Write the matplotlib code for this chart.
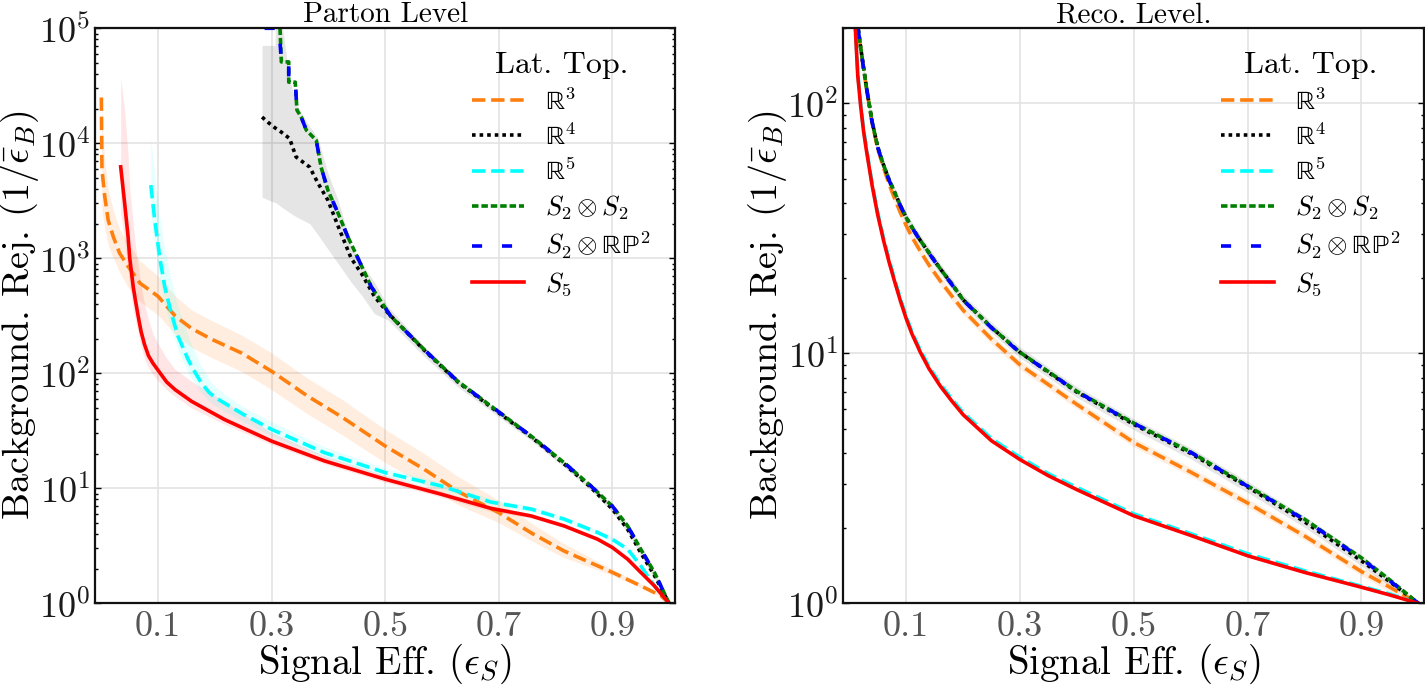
import numpy as np
import matplotlib
matplotlib.use('Agg')
import matplotlib.pyplot as plt
from matplotlib.ticker import NullFormatter, LogLocator

plt.rcParams['font.family'] = 'cmr10'
plt.rcParams['mathtext.fontset'] = 'cm'
plt.rcParams['axes.unicode_minus'] = False
plt.rcParams['axes.formatter.use_mathtext'] = True

# ---------------- Parton level ----------------
# R^3
r3_x = [0.0, 0.0005, 0.001, 0.006, 0.012, 0.021, 0.032, 0.047, 0.068, 0.10, 0.13, 0.159, 0.194, 0.247,
        0.30, 0.364, 0.4225, 0.50, 0.569, 0.628, 0.675, 0.701, 0.757, 0.815, 0.90, 0.95, 0.986, 1.0]
r3_y = [2.5e4, 1.07e4, 5.9e3, 3.43e3, 2.14e3, 1.54e3, 1.11e3, 850, 608, 466, 315, 245, 198, 150,
        104, 63, 42, 23.3, 14.6, 9.4, 7.1, 6.1, 4.1, 2.85, 1.86, 1.42, 1.16, 1.0]
r3_lo = [1.2e4, 5e3, 2.6e3, 1.8e3, 1.3e3, 1.0e3, 760, 560, 420, 320, 218, 168, 137, 104,
         72, 44, 29.5, 16.7, 10.8, 7.2, 5.7, 5.0, 3.5, 2.5, 1.75, 1.37, 1.14, 1.0]
r3_hi = [5.1e4, 2.5e4, 1.5e4, 7e3, 4e3, 2.6e3, 1.8e3, 1.35e3, 950, 700, 470, 355, 288, 215,
         150, 90, 60, 32.5, 20, 12.7, 9.3, 7.8, 5.0, 3.3, 1.98, 1.48, 1.18, 1.0]

# R^4
r4_x = [0.283, 0.295, 0.306, 0.307, 0.317, 0.3315, 0.343, 0.367, 0.3815, 0.399, 0.417, 0.44, 0.458,
        0.481, 0.505, 0.569, 0.628, 0.686, 0.757, 0.815, 0.862, 0.90, 0.927, 0.95, 0.974, 1.0]
r4_y = [1.69e4, 1.5e4, 1.36e4, 1.35e4, 1.25e4, 1.1e4, 7.6e3, 6.2e3, 4.5e3, 3.2e3, 1.9e3, 1.0e3, 740,
        466, 334, 158, 84, 51, 28, 16.3, 10.2, 6.6, 4.4, 2.75, 1.75, 1.0]
r4_lo = [3.4e3, 3.2e3, 3.05e3, 3.05e3, 2.8e3, 2.5e3, 2.3e3, 2.0e3, 1.6e3, 1.2e3, 900, 620, 480,
         330, 290, 140, 76, 47, 26, 15.3, 9.6, 6.2, 4.1, 2.6, 1.65, 1.0]
r4_hi = [7.1e4, 7.1e4, 7.1e4, 2e5, 1.2e5, 3.6e4, 2.2e4, 1.4e4, 1.1e4, 5.5e3, 3.2e3, 1.3e3, 900,
         620, 380, 170, 90, 54, 30, 17.3, 10.8, 7.2, 4.9, 3.1, 1.95, 1.0]

# R^5
r5_x = [0.087, 0.094, 0.103, 0.1115, 0.123, 0.135, 0.153, 0.165, 0.176, 0.19, 0.20, 0.217, 0.25,
        0.30, 0.393, 0.50, 0.598, 0.686, 0.757, 0.815, 0.874, 0.90, 0.927, 0.95, 0.974, 1.0]
r5_y = [4330, 2150, 1000, 569, 334, 210, 131, 102, 82.6, 68, 62, 55, 44,
        32.5, 20.4, 13.7, 10.5, 7.6, 6.6, 5.4, 4.13, 3.6, 2.96, 2.12, 1.42, 1.0]
r5_lo = [2500, 1300, 650, 380, 240, 160, 100, 82, 68, 57, 52.5, 47, 38,
         28.5, 18.5, 12.6, 9.8, 7.2, 6.3, 5.15, 3.95, 3.45, 2.85, 2.05, 1.39, 1.0]
r5_hi = [1.14e4, 5e3, 2.3e3, 1.2e3, 650, 380, 210, 150, 115, 88, 77, 66, 51,
         38, 23, 15, 11.3, 8.1, 7.0, 5.7, 4.35, 3.8, 3.1, 2.2, 1.46, 1.0]

# S2 x S2
s22_x = [0.314, 0.317, 0.330, 0.330, 0.3415, 0.3445, 0.352, 0.361, 0.3785, 0.387, 0.399, 0.417, 0.434,
         0.452, 0.475, 0.510, 0.569, 0.628, 0.686, 0.757, 0.815, 0.862, 0.90, 0.927, 0.95, 0.974, 1.0]
s22_y = [1.2e5, 5.1e4, 5.1e4, 3.4e4, 3.4e4, 1.94e4, 1.69e4, 1.3e4, 1.06e4, 6.2e3, 3.9e3, 2.46e3, 1.54e3,
         1.0e3, 570, 312, 160, 85, 52, 28.4, 16.7, 10.5, 7.0, 4.7, 2.96, 1.86, 1.0]

# S2 x RP2
s2rp_x = [0.2875, 0.313, 0.317, 0.330, 0.330, 0.3415, 0.3445, 0.352, 0.361, 0.3785, 0.387, 0.399, 0.417,
          0.434, 0.452, 0.475, 0.510, 0.569, 0.628, 0.686, 0.757, 0.815, 0.862, 0.90, 0.927, 0.95, 0.974, 1.0]
s2rp_y = [1.0e5, 1.0e5, 5.1e4, 5.1e4, 3.4e4, 3.4e4, 1.94e4, 1.69e4, 1.3e4, 1.06e4, 6.2e3, 3.9e3, 2.46e3,
          1.54e3, 1.0e3, 570, 312, 160, 85, 52, 28.4, 16.7, 10.5, 7.0, 4.7, 2.96, 1.86, 1.0]

# S5
s5_x = [0.034, 0.041, 0.047, 0.050, 0.056, 0.060, 0.065, 0.070, 0.076, 0.083, 0.091, 0.10, 0.115, 0.130,
        0.159, 0.217, 0.30, 0.393, 0.50, 0.598, 0.686, 0.757, 0.815, 0.874, 0.90, 0.927, 0.95, 0.974, 1.0]
s5_y = [6240, 3000, 1550, 1000, 569, 430, 310, 230, 178, 142, 122, 106, 84, 72,
        57, 39.6, 25.7, 17.3, 12.0, 8.9, 6.7, 5.75, 4.71, 3.61, 3.06, 2.42, 1.86, 1.42, 1.0]
s5_lo = [2.5e3, 1.4e3, 800, 560, 360, 290, 220, 170, 135, 112, 97, 86, 72, 63,
         50, 36, 24, 16.3, 11.3, 8.4, 6.3, 5.5, 4.55, 3.5, 2.97, 2.35, 1.8, 1.4, 1.0]
s5_hi = [3.7e4, 1.9e4, 8e3, 4e3, 2e3, 1.3e3, 850, 580, 400, 290, 220, 180, 135, 108,
         85, 57, 30.5, 19.2, 13.0, 9.5, 7.0, 6.0, 4.9, 3.7, 3.15, 2.5, 1.9, 1.44, 1.0]

# ---------------- Reco level ----------------
reco_x = [0.006, 0.010, 0.015, 0.020, 0.025, 0.030, 0.040, 0.050, 0.060, 0.070, 0.080, 0.090, 0.10, 0.11,
          0.125, 0.14, 0.16, 0.18, 0.20, 0.25, 0.30, 0.35, 0.40, 0.50, 0.60, 0.70, 0.80, 0.90, 0.95, 1.0]
reco_r3 = [600, 320, 205, 167, 139, 116, 84, 66, 55.5, 47.5, 41.5, 36.5, 32.5, 29.3,
           25.6, 22.6, 19.5, 17.0, 14.9, 11.4, 9.0, 7.5, 6.25, 4.4, 3.35, 2.52, 1.86, 1.34, 1.16, 1.0]
reco_r3_lo = [576, 307, 197, 160, 133, 111, 80.6, 63.4, 53.3, 45.6, 39.8, 35, 31.2, 28.1,
              24.6, 21.7, 18.7, 16.3, 14.3, 10.9, 8.64, 7.2, 6.0, 4.22, 3.22, 2.42, 1.79, 1.29, 1.11, 1.0]
reco_r3_hi = [624, 333, 213, 174, 145, 121, 87.4, 68.6, 57.7, 49.4, 43.2, 38, 33.8, 30.5,
              26.6, 23.5, 20.3, 17.7, 15.5, 11.9, 9.36, 7.8, 6.5, 4.58, 3.48, 2.62, 1.93, 1.39, 1.21, 1.0]
reco_r4 = [600, 320, 205, 168, 140, 117, 85, 67, 57, 49.5, 44, 39, 35, 32,
           28.3, 25.3, 21.8, 19.0, 16.4, 12.7, 10.1, 8.4, 7.0, 5.2, 3.98, 2.92, 2.12, 1.48, 1.22, 1.0]
reco_r4_lo = [570, 304, 195, 160, 133, 111, 81, 63.7, 54.2, 47, 41.8, 37, 33.3, 30.4,
              26.9, 24, 20.7, 18.1, 15.6, 12.1, 9.6, 8.0, 6.65, 4.94, 3.78, 2.77, 2.01, 1.41, 1.17, 1.0]
reco_r4_hi = [630, 336, 215, 176, 147, 123, 89, 70.4, 59.9, 52, 46.2, 41, 36.8, 33.6,
              29.7, 26.6, 22.9, 20, 17.2, 13.3, 10.6, 8.8, 7.35, 5.46, 4.18, 3.07, 2.23, 1.56, 1.27, 1.0]
reco_r5 = [425, 218, 132, 100, 79.5, 66.6, 48.2, 36.6, 29.1, 23.7, 19.7, 16.5, 14.1, 12.2,
           10.3, 8.87, 7.55, 6.59, 5.8, 4.56, 3.84, 3.3, 2.91, 2.28, 1.9, 1.58, 1.35, 1.17, 1.09, 1.0]
reco_s22 = [600, 320, 205, 168, 140, 117, 85, 67, 57, 49.5, 44, 39, 35, 32,
            28.3, 25.3, 21.8, 19.0, 16.4, 12.7, 10.1, 8.45, 7.05, 5.26, 4.03, 2.95, 2.17, 1.52, 1.24, 1.0]
reco_s2rp = [600, 320, 203, 167, 139, 116.5, 84.7, 66.8, 56.8, 49.3, 43.8, 38.9, 34.9, 31.9,
             28.2, 25.2, 21.7, 18.9, 16.35, 12.65, 10.07, 8.43, 7.03, 5.25, 4.02, 2.94, 2.16, 1.51, 1.23, 1.0]
reco_s5 = [417, 214, 129, 98, 78, 65.3, 47.3, 35.9, 28.5, 23.2, 19.3, 16.2, 13.8, 12.0,
           10.1, 8.7, 7.4, 6.46, 5.69, 4.47, 3.76, 3.24, 2.85, 2.24, 1.87, 1.55, 1.33, 1.16, 1.08, 1.0]

labels = [r'$\mathrm{ℝ}^3$', r'$\mathrm{ℝ}^4$', r'$\mathrm{ℝ}^5$',
          r'$S_2\otimes S_2$', r'$S_2\otimes\mathrm{ℝℙ}^2$', r'$S_5$']
xtick_vals = [0.1, 0.3, 0.5, 0.7, 0.9]

lw = 2.6
styles = [
    dict(color='#ff7f0e', ls='--', lw=lw),
    dict(color='black', ls=(0, (1, 1.1)), lw=lw),
    dict(color='cyan', ls='--', lw=lw),
    dict(color='green', ls=(0, (1.8, 0.8)), lw=lw),
    dict(color='blue', ls=(0, (2.8, 5.5)), lw=lw),
    dict(color='red', ls='-', lw=lw),
]

fig = plt.figure(figsize=(14.25, 6.86), dpi=100)
ax1 = fig.add_axes([0.0670, 0.1205, 0.4067, 0.8383])
ax2 = fig.add_axes([0.5918, 0.1205, 0.4077, 0.8383])

# parton panel
ax1.fill_between(r3_x, r3_lo, r3_hi, color='#ff7f0e', alpha=0.13, lw=0)
ax1.fill_between(r4_x, r4_lo, r4_hi, color='black', alpha=0.1, lw=0)
ax1.fill_between(r5_x, r5_lo, r5_hi, color='cyan', alpha=0.1, lw=0)
ax1.fill_between(s5_x, s5_lo, s5_hi, color='red', alpha=0.1, lw=0)
series1 = [(r3_x, r3_y), (r4_x, r4_y), (r5_x, r5_y), (s22_x, s22_y), (s2rp_x, s2rp_y), (s5_x, s5_y)]
for (x, y), st, lab in zip(series1, styles, labels):
    ax1.plot(x, y, label=lab, **st)

# reco panel
ax2.fill_between(reco_x, reco_r3_lo, reco_r3_hi, color='#ff7f0e', alpha=0.13, lw=0)
ax2.fill_between(reco_x, reco_r4_lo, reco_r4_hi, color='black', alpha=0.1, lw=0)
for y, st, lab in zip([reco_r3, reco_r4, reco_r5, reco_s22, reco_s2rp, reco_s5], styles, labels):
    ax2.plot(reco_x, y, label=lab, **st)

for ax, title, ytop in [(ax1, 'Parton Level', 1e5), (ax2, 'Reco. Level.', 200)]:
    ax.set_yscale('log')
    ax.set_xlim(-0.0104, 1.0104)
    ax.set_ylim(1, ytop)
    ax.set_xticks(xtick_vals)
    ax.set_xticklabels([str(v) for v in xtick_vals])
    ax.yaxis.set_major_locator(LogLocator(base=10))
    ax.yaxis.set_minor_formatter(NullFormatter())
    ax.tick_params(axis='x', length=0, labelsize=26, labelcolor='#555555', pad=6)
    ax.tick_params(axis='y', which='both', direction='in', left=True, right=True,
                   labelsize=26, labelcolor='#1a1a1a', width=1)
    ax.tick_params(axis='y', which='major', length=4)
    ax.tick_params(axis='y', which='minor', length=2.2)
    ax.grid(True, which='major', color='#e3e3e3', lw=1.2)
    ax.set_axisbelow(True)
    for sp in ax.spines.values():
        sp.set_linewidth(1.6)
        sp.set_color('#111111')
    ax.set_title(title, fontsize=21, pad=4)
    ax.set_xlabel(r'Signal Eff. $(\epsilon_S)$', fontsize=28, labelpad=-1)
    ax.set_ylabel(r'Background. Rej. $(1/\bar{\epsilon}_B)$', fontsize=27.5, labelpad=-1.5)
    leg = ax.legend(loc='upper right', bbox_to_anchor=(1.0, 1.0), frameon=False,
                    title='Lat. Top.', fontsize=19, title_fontsize=23, labelspacing=0.32)

plt.savefig('out.png', dpi=100)
